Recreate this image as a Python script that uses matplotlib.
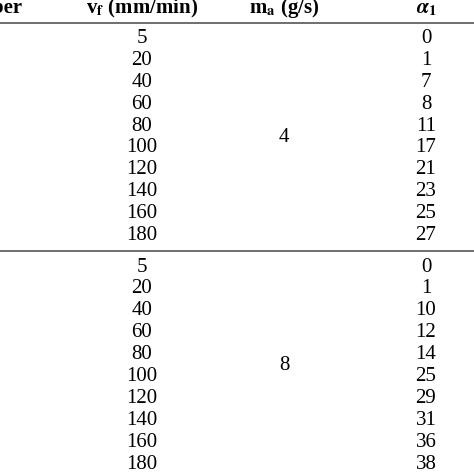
import matplotlib.pyplot as plt

vf = [5, 20, 40, 60, 80, 100, 120, 140, 160, 180]
ma = [4, 8]
alpha1 = [[0, 1, 7, 8, 11, 17, 21, 23, 25, 27],
          [0, 1, 10, 12, 14, 25, 29, 31, 36, 38]]
headers = ["Number", r"v$_\mathbf{f}$ (mm/min)", r"m$_\mathbf{a}$ (g/s)", r"$\boldsymbol{\alpha}_\mathbf{1}$"]

plt.rcParams['font.family'] = ['Liberation Serif', 'DejaVu Serif']
plt.rcParams['mathtext.fontset'] = 'stix'

fig = plt.figure(figsize=(4.74, 4.74), dpi=100)
ax = fig.add_axes([0, 0, 1, 1])
ax.set_xlim(0, 474)
ax.set_ylim(474, 0)
ax.axis('off')

fs = 15
col_x = [-14, 142, 284, 426]
hy = 8
for x, h in zip(col_x, headers):
    ax.text(x, hy, h, ha='center', va='center', fontsize=fs, fontweight='bold')
ax.axhline(23, color='#555555', lw=1.2)

row_h = 21.9
starts = [38.5, 267]
for g in range(2):
    y0 = starts[g]
    for i, v in enumerate(vf):
        y = y0 + i * row_h
        ax.text(col_x[1], y, str(v), ha='center', va='center', fontsize=fs)
        ax.text(col_x[3], y, str(alpha1[g][i]), ha='center', va='center', fontsize=fs)
    ax.text(col_x[2], y0 + 4.5 * row_h, str(ma[g]), ha='center', va='center', fontsize=fs)
ax.axhline(251, color='#555555', lw=1.2)

fig.savefig('out.png', dpi=100)
